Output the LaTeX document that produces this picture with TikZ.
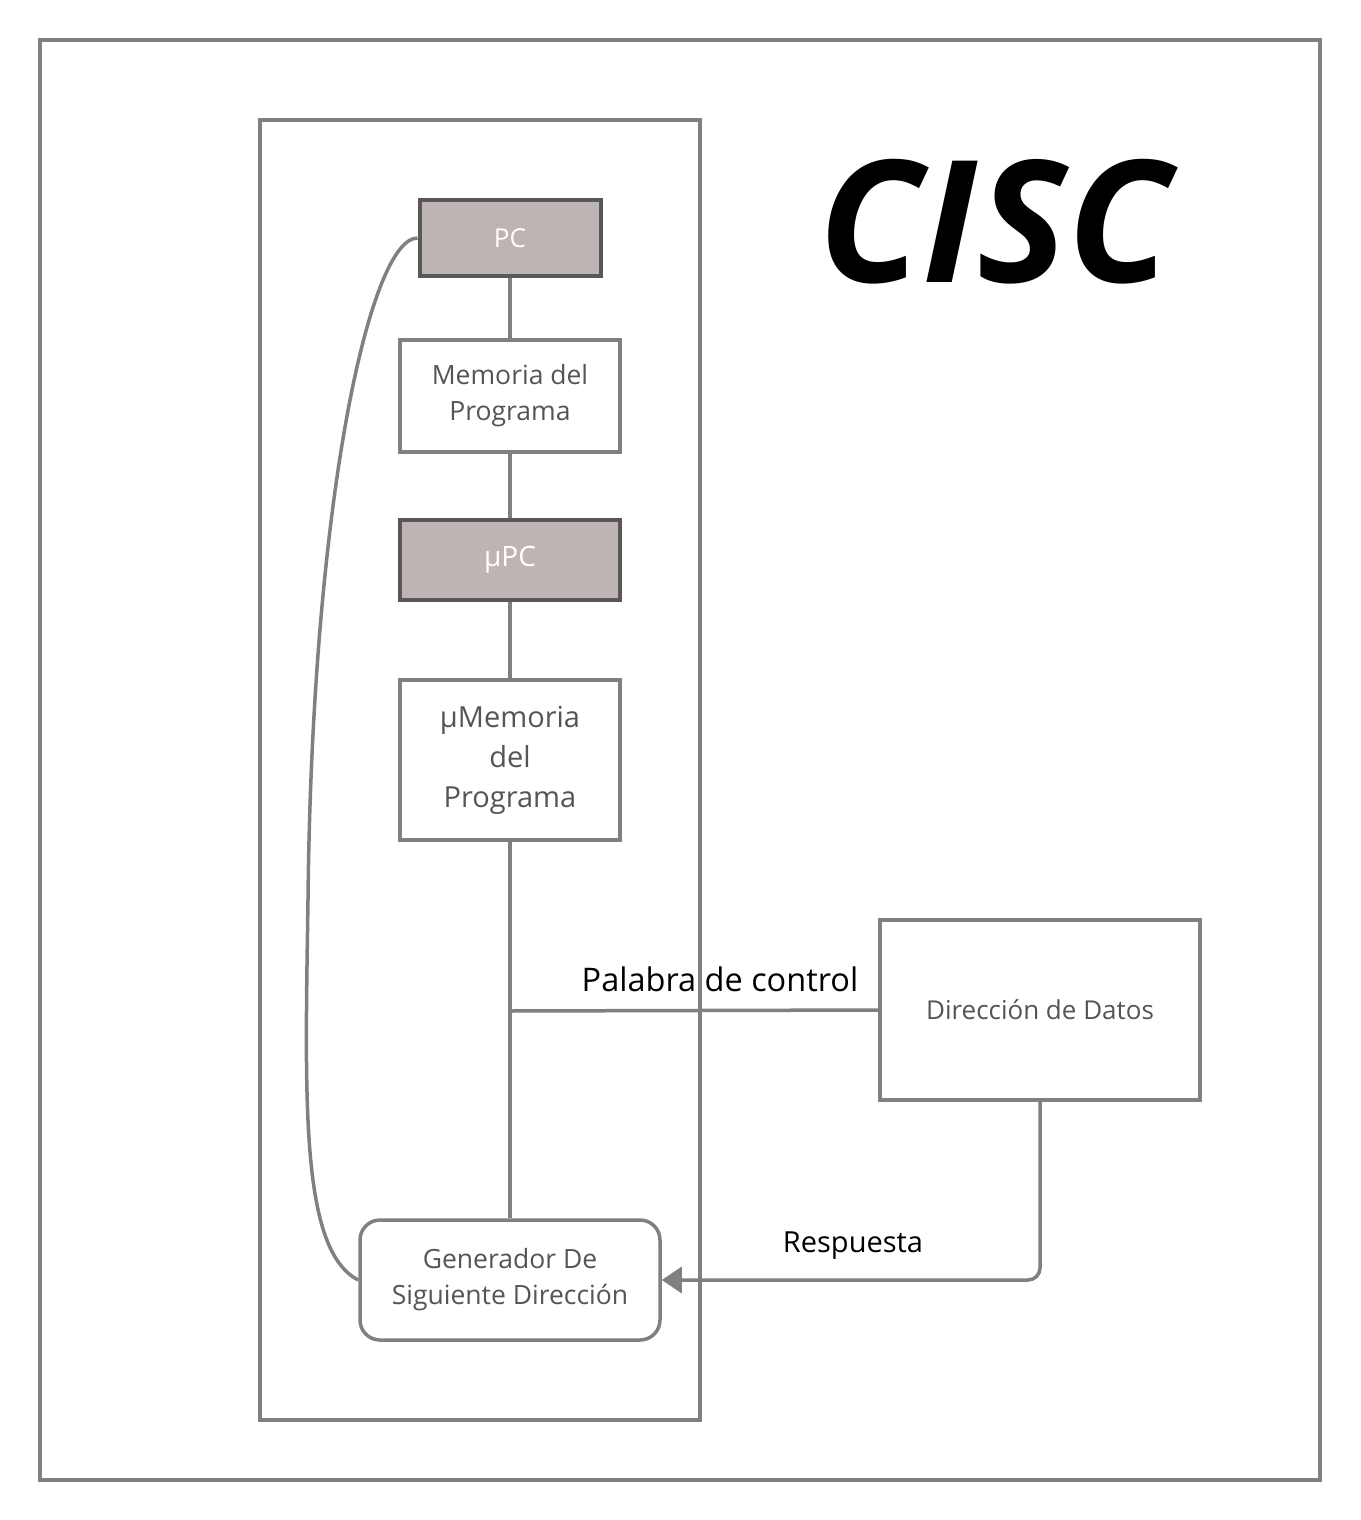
\documentclass[tikz,border=0pt]{standalone}
\usepackage{fontspec}
\setmainfont{Open Sans}
\usetikzlibrary{arrows.meta}
\definecolor{linegray}{HTML}{808080}
\definecolor{darkgray}{HTML}{585858}
\definecolor{textgray}{HTML}{555555}
\definecolor{regfill}{HTML}{BEB4B3}
\tikzset{
  block/.style={draw=linegray, line width=3.5pt, fill=white, text=textgray, align=center, inner sep=0pt},
  register/.style={draw=darkgray, line width=4pt, fill=regfill, text=white, align=center, inner sep=0pt},
  wire/.style={draw=linegray, line width=3.5pt},
  wirelabel/.style={text=black, font=\fontsize{29}{34}\selectfont}
}
\begin{document}
\begin{tikzpicture}[x=1pt,y=-1pt]
\useasboundingbox (0,0) rectangle (1360,1520);
\draw[linegray, line width=3.5pt] (40,40) rectangle (1320,1480);
\draw[linegray, line width=3.5pt] (260,120) rectangle (700,1420);

\node at (995,222) {\fontsize{170}{170}\selectfont\bfseries\itshape CISC};

\node[register, minimum width=181pt, minimum height=76pt, font=\fontsize{26}{36}\selectfont] (pc) at (510,238) {PC};
\node[block, minimum width=220pt, minimum height=112pt, font=\fontsize{26.5}{36}\selectfont] (mem) at (510,396) {Memoria del\\Programa};
\node[register, minimum width=220pt, minimum height=80pt, font=\fontsize{28}{36}\selectfont] (upc) at (510,560) {μPC};
\node[block, minimum width=220pt, minimum height=160pt, font=\fontsize{29}{40}\selectfont] (umem) at (510,760) {μMemoria\\del\\Programa};
\node[block, rounded corners=20pt, minimum width=300pt, minimum height=120pt, font=\fontsize{26.5}{36}\selectfont] (gen) at (510,1280) {Generador De\\Siguiente Dirección};
\node[block, minimum width=320pt, minimum height=180pt, font=\fontsize{26}{36}\selectfont] (datos) at (1040,1010) {Dirección de Datos};

\coordinate (tap) at (508,1011);

\draw[wire] (pc) -- (mem);
\draw[wire] (mem) -- (upc);
\draw[wire] (upc) -- (umem);
\draw[wire] (umem) -- (gen);

\draw[wire] (tap) -- (datos.west);
\node[wirelabel, font=\fontsize{32.5}{36}\selectfont] (palabra) at (720,979) {Palabra de control};

\draw[wire, rounded corners=12pt, -{Triangle[length=20pt,width=26pt]}] (datos.south) |- (gen.east);
\node[wirelabel] (resp) at (853,1246) {Respuesta};

\draw[wire] (gen.west) .. controls (300,1250) and (305,1100) .. (308,900)
  .. controls (312,500) and (370,238) .. (pc.west);
\end{tikzpicture}
\end{document}
